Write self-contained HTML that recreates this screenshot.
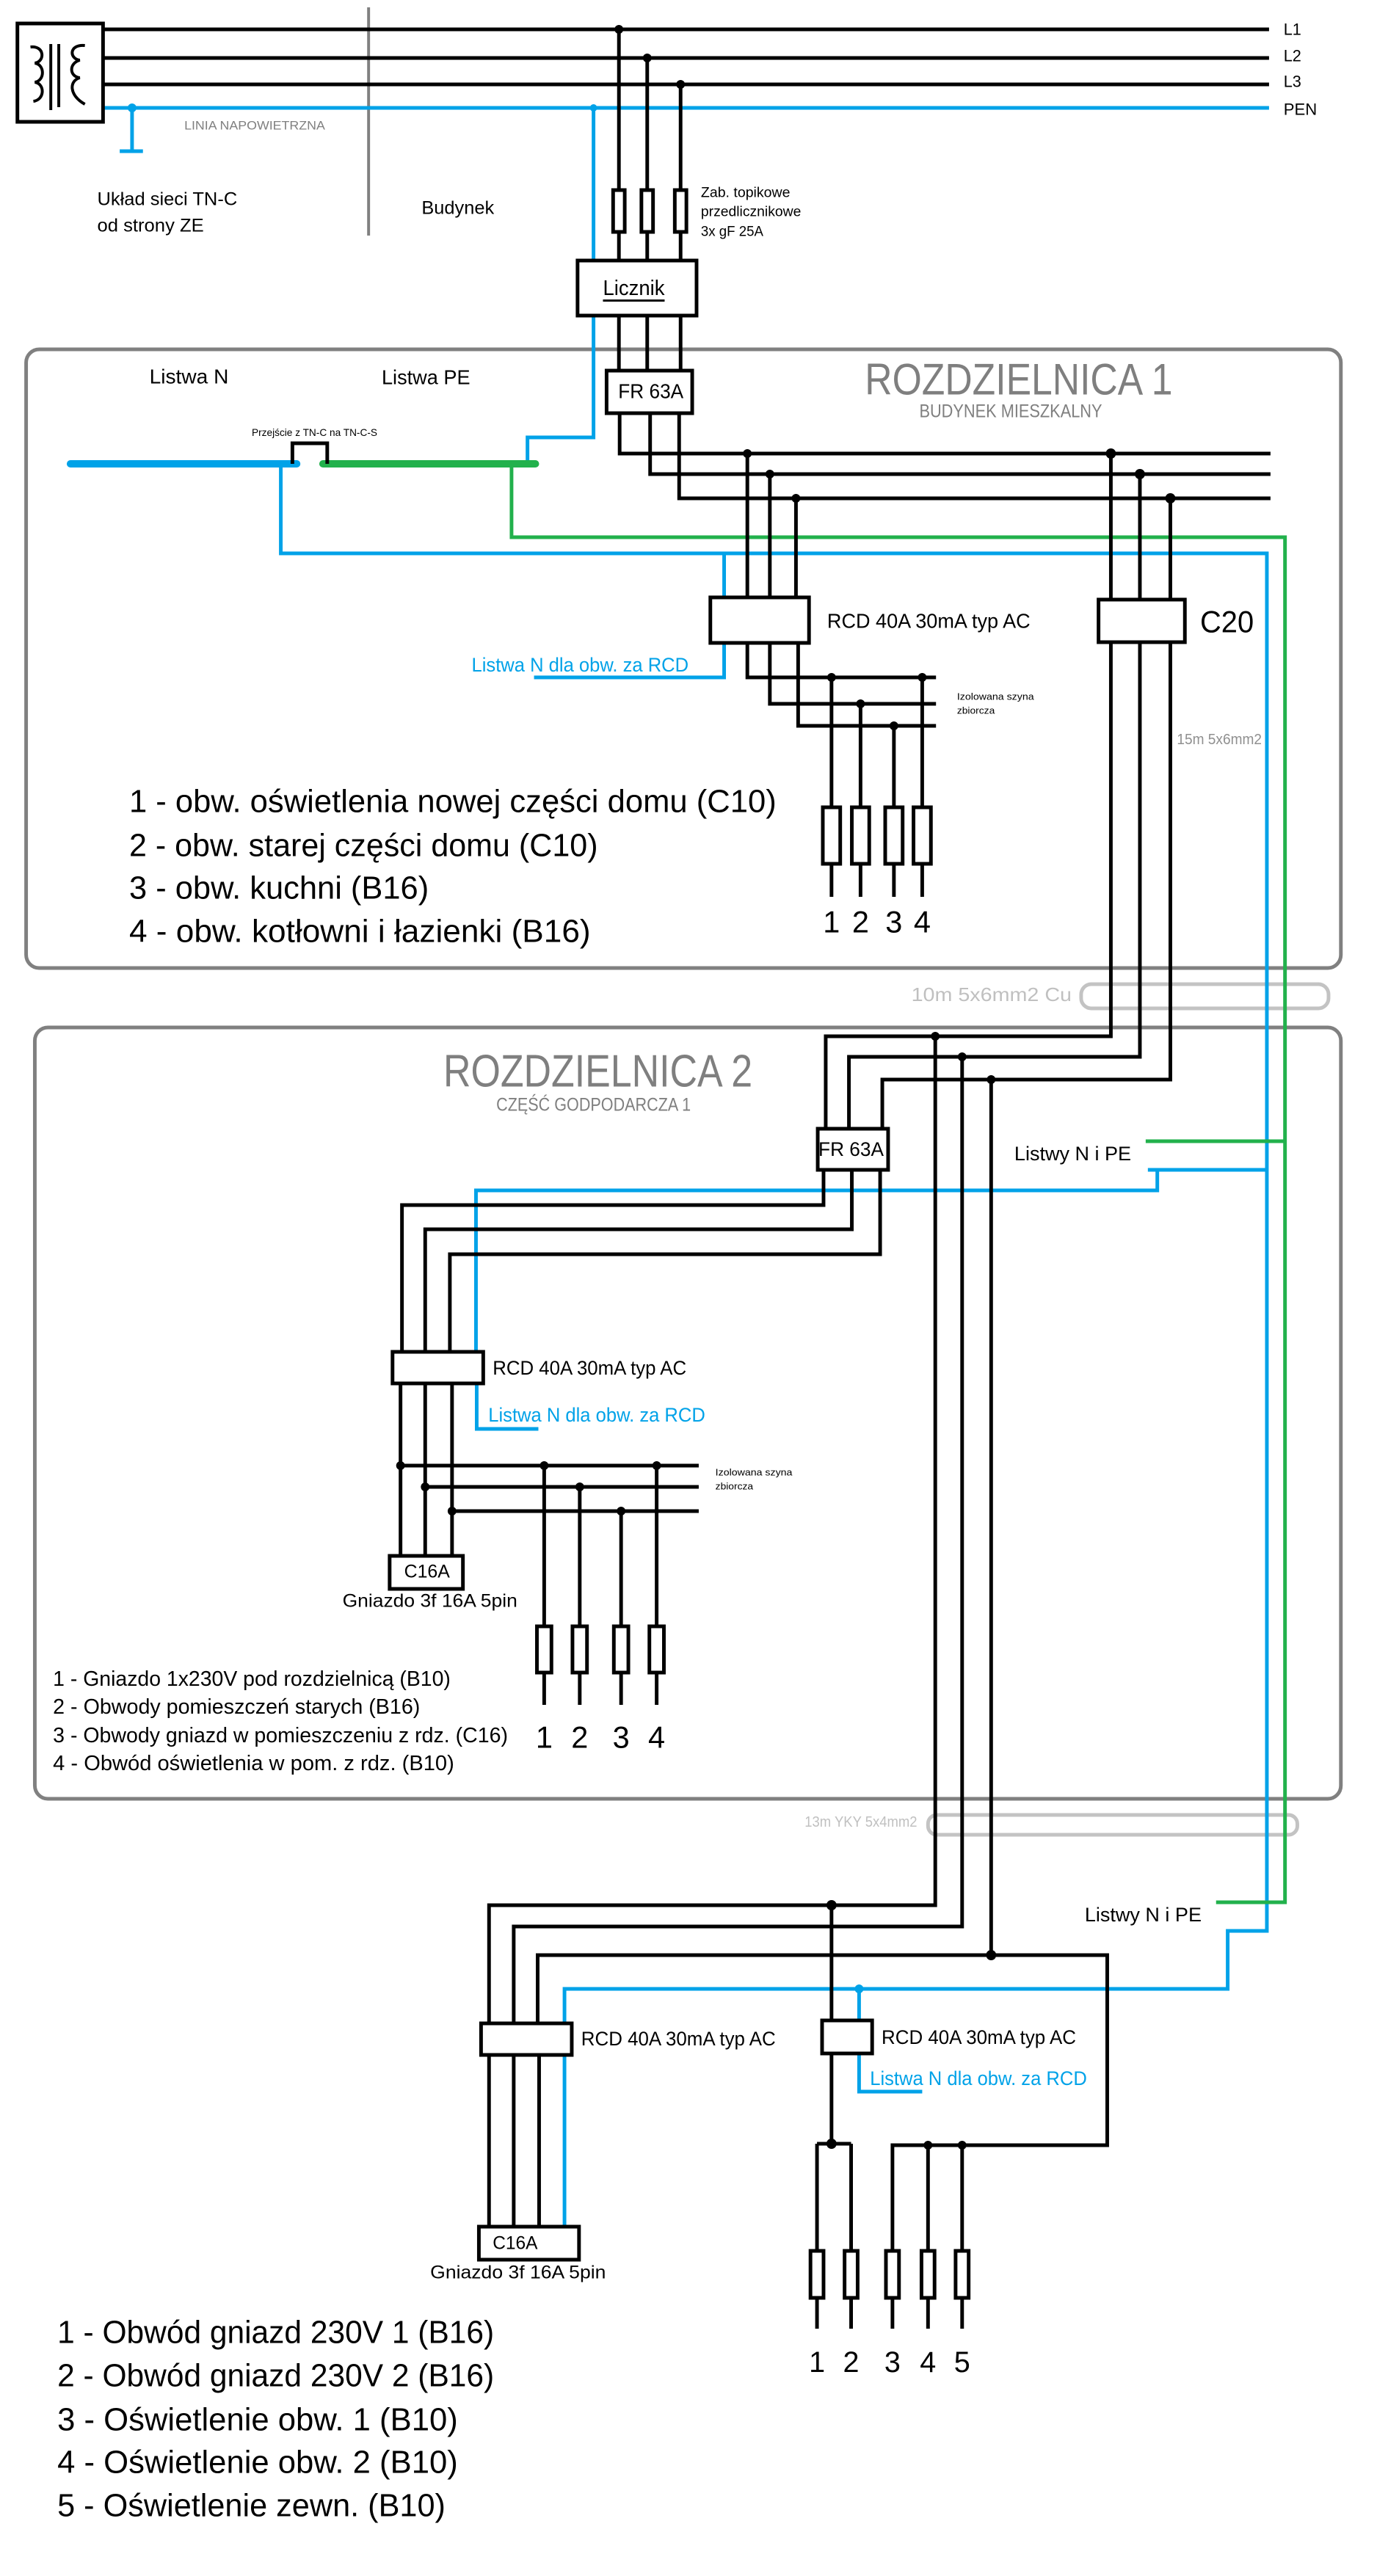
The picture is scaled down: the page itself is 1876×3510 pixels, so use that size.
<!DOCTYPE html>
<html><head><meta charset="utf-8"><style>
html,body{margin:0;padding:0;background:#fff;}
svg{display:block;}
text{font-family:"Liberation Sans","DejaVu Sans",sans-serif;}
</style></head><body>
<svg width="1876" height="3510" viewBox="0 0 1876 3510" xmlns="http://www.w3.org/2000/svg">
<rect width="1876" height="3510" fill="#fff"/>
<g transform="scale(0.98852,1)">
<!-- enclosures -->
<rect x="36" y="476" width="1812" height="843" rx="18" fill="none" stroke="#808080" stroke-width="5"/>
<rect x="48" y="1400" width="1800" height="1051" rx="18" fill="none" stroke="#808080" stroke-width="5"/>
<rect x="1490" y="1341" width="341" height="33" rx="14" fill="none" stroke="#c3c3c3" stroke-width="5"/>
<rect x="1279" y="2473" width="509" height="27" rx="12" fill="none" stroke="#c3c3c3" stroke-width="5"/>
<line x1="508" y1="10" x2="508" y2="321" stroke="#808080" stroke-width="4"/>

<!-- blue / green -->
<g fill="none" stroke="#00a2e8" stroke-width="5">
<path d="M143 147 H1749"/>
<path d="M182 147 V206 M165 206 H197"/>
<path d="M818 147 V596 H727 V632"/>
<path d="M387 632 V754 H1746 V2631 H1692 V2710 H778 V3034"/>
<path d="M998 754 V814"/>
<path d="M998 876 V923 H736"/>
<path d="M1746 1594 H1582 M1595 1594 V1622 H656 V1842"/>
<path d="M657 1885 V1947 H742"/>
<path d="M1184 2710 V2753 M1184 2798 V2850 H1271"/>
</g>
<g fill="none" stroke="#22b14c" stroke-width="5">
<path d="M705 632 V732 H1771 V2592 H1676"/>
<path d="M1771 1555 H1579"/>
</g>
<line x1="97" y1="632" x2="409" y2="632" stroke="#00a2e8" stroke-width="10" stroke-linecap="round"/>
<line x1="445" y1="632" x2="738" y2="632" stroke="#22b14c" stroke-width="10" stroke-linecap="round"/>
<circle cx="182" cy="147" r="6" fill="#00a2e8"/><circle cx="818" cy="147" r="5" fill="#00a2e8"/>
<circle cx="1184" cy="2710" r="6" fill="#00a2e8"/>

<!-- black wiring -->
<g fill="none" stroke="#000" stroke-width="5">
<path d="M143 40 H1749 M143 79 H1749 M143 115 H1749"/>
<path d="M853 40 V505 M892 79 V505 M938 115 V505"/>
<path d="M854 563 V618 H1751 M896 563 V646 H1751 M936 563 V679 H1751"/>
<path d="M403 632 V604 H451 V632"/>
<path d="M1030 618 V814 M1061 646 V814 M1097 679 V814"/>
<path d="M1531 618 V817 M1571 646 V817 M1613 679 V817"/>
<path d="M1030 876 V923 H1290 M1061 876 V959 H1290 M1100 876 V989 H1290"/>
<path d="M1146 923 V1222 M1186 959 V1222 M1232 989 V1222 M1271 923 V1222"/>
<path d="M1531 875 V1412 H1138 V1538 M1571 875 V1440 H1170 V1538 M1613 875 V1471 H1216 V1538"/>
<path d="M1135 1594 V1642 H554 V1842 M1174 1594 V1675 H586 V1842 M1213 1594 V1709 H620 V1842"/>
<path d="M552 1885 V2120 M586 1885 V2120 M623 1885 V2120"/>
<path d="M552 1997 H963 M586 2026 H963 M623 2059 H963"/>
<path d="M750 1997 V2323 M799 2026 V2323 M856 2059 V2323 M905 1997 V2323"/>
<path d="M1289 1412 V2596 H674 V2757 M1326 1440 V2625 H708 V2757 M1366 1471 V2664 H741 V2757"/>
<path d="M1366 2664 H1526 V2923 H1230 V3173"/>
<path d="M1279 2923 V3173 M1326 2923 V3173"/>
<path d="M1146 2596 V2753 M1146 2798 V2921 M1126 2921 H1173 M1126 2921 V3173 M1173 2921 V3173"/>
<path d="M674 2800 V3034 M708 2800 V3034 M743 2800 V3034"/>
</g>
<g fill="#000">
<circle cx="853" cy="40" r="6"/><circle cx="892" cy="79" r="6"/><circle cx="938" cy="115" r="6"/>
<circle cx="1030" cy="618" r="6"/><circle cx="1061" cy="646" r="6"/><circle cx="1097" cy="679" r="6"/>
<circle cx="1531" cy="618" r="7"/><circle cx="1571" cy="646" r="7"/><circle cx="1613" cy="679" r="7"/>
<circle cx="1146" cy="923" r="6"/><circle cx="1186" cy="959" r="6"/><circle cx="1232" cy="989" r="6"/><circle cx="1271" cy="923" r="6"/>
<circle cx="1289" cy="1412" r="6"/><circle cx="1326" cy="1440" r="6"/><circle cx="1366" cy="1471" r="6"/>
<circle cx="552" cy="1997" r="6"/><circle cx="586" cy="2026" r="6"/><circle cx="623" cy="2059" r="6"/>
<circle cx="750" cy="1997" r="6"/><circle cx="799" cy="2026" r="6"/><circle cx="856" cy="2059" r="6"/><circle cx="905" cy="1997" r="6"/>
<circle cx="1146" cy="2596" r="7"/><circle cx="1366" cy="2664" r="7"/><circle cx="1146" cy="2921" r="7"/>
<circle cx="1279" cy="2923" r="6"/><circle cx="1326" cy="2923" r="6"/>
</g>

<!-- boxes -->
<g fill="#fff" stroke="#000" stroke-width="5">
<rect x="24" y="32" width="118" height="134"/>
<rect x="845" y="259" width="16" height="57"/><rect x="884" y="259" width="16" height="57"/><rect x="930" y="259" width="16" height="57"/>
<rect x="796" y="355" width="164" height="75"/>
<rect x="836" y="505" width="118" height="58"/>
<rect x="979" y="814" width="136" height="62"/>
<rect x="1514" y="817" width="119" height="58"/>
<rect x="1134" y="1100" width="24" height="77"/><rect x="1174" y="1100" width="24" height="77"/><rect x="1220" y="1100" width="24" height="77"/><rect x="1259" y="1100" width="24" height="77"/>
<rect x="1127" y="1538" width="97" height="56"/>
<rect x="541" y="1842" width="125" height="43"/>
<rect x="537" y="2120" width="101" height="45"/>
<rect x="740" y="2216" width="20" height="63"/><rect x="789" y="2216" width="20" height="63"/><rect x="846" y="2216" width="20" height="63"/><rect x="895" y="2216" width="20" height="63"/>
<rect x="663" y="2757" width="125" height="43"/>
<rect x="1133" y="2753" width="69" height="45"/>
<rect x="660" y="3034" width="138" height="45"/>
<rect x="1117" y="3067" width="18" height="64"/><rect x="1164" y="3067" width="18" height="64"/><rect x="1221" y="3067" width="18" height="64"/><rect x="1270" y="3067" width="18" height="64"/><rect x="1317" y="3067" width="18" height="64"/>
</g>
<!-- transformer symbol -->
<g fill="none" stroke="#000" stroke-width="4">
<path d="M42 64 C62 62 62 84 48 86 C62 88 62 110 48 112 C62 114 62 136 46 138"/>
<path d="M70 60 V150 M81 60 V146"/>
<path d="M117 62 C95 60 95 80 110 82 C95 86 95 104 110 106 C95 110 95 130 117 142"/>
</g>

<!-- text -->
<g fill="#000" dominant-baseline="central">
<text x="1769" y="40" font-size="22">L1</text>
<text x="1769" y="76" font-size="22">L2</text>
<text x="1769" y="111" font-size="22">L3</text>
<text x="1769" y="149" font-size="22" textLength="46" lengthAdjust="spacingAndGlyphs">PEN</text>
<text x="254" y="171" font-size="17" fill="#808080" textLength="194" lengthAdjust="spacingAndGlyphs">LINIA NAPOWIETRZNA</text>
<text x="134" y="272" font-size="25" textLength="193" lengthAdjust="spacingAndGlyphs">Układ sieci TN-C</text>
<text x="134" y="308" font-size="25" textLength="147" lengthAdjust="spacingAndGlyphs">od strony ZE</text>
<text x="581" y="284" font-size="25" textLength="100" lengthAdjust="spacingAndGlyphs">Budynek</text>
<text x="966" y="263" font-size="19" textLength="123" lengthAdjust="spacingAndGlyphs">Zab. topikowe</text>
<text x="966" y="289" font-size="19" textLength="138" lengthAdjust="spacingAndGlyphs">przedlicznikowe</text>
<text x="966" y="316" font-size="19" textLength="86" lengthAdjust="spacingAndGlyphs">3x gF 25A</text>
<text x="831" y="393" font-size="29" textLength="85" lengthAdjust="spacingAndGlyphs" text-decoration="underline">Licznik</text>
<text x="852" y="533" font-size="28" textLength="90" lengthAdjust="spacingAndGlyphs">FR 63A</text>
<text x="1192" y="517" font-size="60" fill="#7f7f7f" textLength="424" lengthAdjust="spacingAndGlyphs">ROZDZIELNICA 1</text>
<text x="1267" y="561" font-size="25" fill="#7f7f7f" textLength="252" lengthAdjust="spacingAndGlyphs">BUDYNEK MIESZKALNY</text>
<text x="206" y="513" font-size="28" textLength="109" lengthAdjust="spacingAndGlyphs">Listwa N</text>
<text x="526" y="514" font-size="28" textLength="122" lengthAdjust="spacingAndGlyphs">Listwa PE</text>
<text x="347" y="589" font-size="14" textLength="173" lengthAdjust="spacingAndGlyphs">Przejście z TN-C na TN-C-S</text>
<text x="1140" y="846" font-size="28" textLength="280" lengthAdjust="spacingAndGlyphs">RCD 40A 30mA typ AC</text>
<text x="1654" y="847" font-size="42" textLength="74" lengthAdjust="spacingAndGlyphs">C20</text>
<text x="650" y="906" font-size="27" fill="#00a2e8" textLength="299" lengthAdjust="spacingAndGlyphs">Listwa N dla obw. za RCD</text>
<text x="1319" y="949" font-size="13" textLength="106" lengthAdjust="spacingAndGlyphs">Izolowana szyna</text>
<text x="1319" y="968" font-size="13" textLength="52" lengthAdjust="spacingAndGlyphs">zbiorcza</text>
<text x="1622" y="1008" font-size="20" fill="#909090" textLength="117" lengthAdjust="spacingAndGlyphs">15m 5x6mm2</text>
<text x="178" y="1092" font-size="44" textLength="892" lengthAdjust="spacingAndGlyphs">1 - obw. oświetlenia nowej części domu (C10)</text>
<text x="178" y="1152" font-size="44" textLength="646" lengthAdjust="spacingAndGlyphs">2 - obw. starej części domu (C10)</text>
<text x="178" y="1210" font-size="44" textLength="413" lengthAdjust="spacingAndGlyphs">3 - obw. kuchni (B16)</text>
<text x="178" y="1269" font-size="44" textLength="636" lengthAdjust="spacingAndGlyphs">4 - obw. kotłowni i łazienki (B16)</text>
<text x="1146" y="1256" font-size="42" text-anchor="middle">1</text>
<text x="1186" y="1256" font-size="42" text-anchor="middle">2</text>
<text x="1232" y="1256" font-size="42" text-anchor="middle">3</text>
<text x="1271" y="1256" font-size="42" text-anchor="middle">4</text>

<text x="1256" y="1356" font-size="26" fill="#c0c0c0" textLength="221" lengthAdjust="spacingAndGlyphs">10m 5x6mm2 Cu</text>
<text x="611" y="1460" font-size="62" fill="#7f7f7f" textLength="426" lengthAdjust="spacingAndGlyphs">ROZDZIELNICA 2</text>
<text x="684" y="1506" font-size="25" fill="#7f7f7f" textLength="268" lengthAdjust="spacingAndGlyphs">CZĘŚĆ GODPODARCZA 1</text>
<text x="1128" y="1566" font-size="27" textLength="90" lengthAdjust="spacingAndGlyphs">FR 63A</text>
<text x="1398" y="1572" font-size="27" textLength="161" lengthAdjust="spacingAndGlyphs">Listwy N i PE</text>
<text x="679" y="1864" font-size="27" textLength="267" lengthAdjust="spacingAndGlyphs">RCD 40A 30mA typ AC</text>
<text x="673" y="1928" font-size="27" fill="#00a2e8" textLength="299" lengthAdjust="spacingAndGlyphs">Listwa N dla obw. za RCD</text>
<text x="986" y="2006" font-size="13" textLength="106" lengthAdjust="spacingAndGlyphs">Izolowana szyna</text>
<text x="986" y="2025" font-size="13" textLength="52" lengthAdjust="spacingAndGlyphs">zbiorcza</text>
<text x="557" y="2142" font-size="25" textLength="63" lengthAdjust="spacingAndGlyphs">C16A</text>
<text x="472" y="2182" font-size="25" textLength="241" lengthAdjust="spacingAndGlyphs">Gniazdo 3f 16A 5pin</text>
<text x="73" y="2288" font-size="29" textLength="548" lengthAdjust="spacingAndGlyphs">1 - Gniazdo 1x230V pod rozdzielnicą (B10)</text>
<text x="73" y="2326" font-size="29" textLength="506" lengthAdjust="spacingAndGlyphs">2 - Obwody pomieszczeń starych (B16)</text>
<text x="73" y="2365" font-size="29" textLength="627" lengthAdjust="spacingAndGlyphs">3 - Obwody gniazd w pomieszczeniu z rdz. (C16)</text>
<text x="73" y="2403" font-size="29" textLength="553" lengthAdjust="spacingAndGlyphs">4 - Obwód oświetlenia w pom. z rdz. (B10)</text>
<text x="750" y="2367" font-size="42" text-anchor="middle">1</text>
<text x="799" y="2367" font-size="42" text-anchor="middle">2</text>
<text x="856" y="2367" font-size="42" text-anchor="middle">3</text>
<text x="905" y="2367" font-size="42" text-anchor="middle">4</text>
<text x="1109" y="2483" font-size="20" fill="#c0c0c0" textLength="155" lengthAdjust="spacingAndGlyphs">13m YKY 5x4mm2</text>

<text x="1495" y="2609" font-size="27" textLength="161" lengthAdjust="spacingAndGlyphs">Listwy N i PE</text>
<text x="801" y="2778" font-size="27" textLength="268" lengthAdjust="spacingAndGlyphs">RCD 40A 30mA typ AC</text>
<text x="1215" y="2776" font-size="27" textLength="268" lengthAdjust="spacingAndGlyphs">RCD 40A 30mA typ AC</text>
<text x="1199" y="2832" font-size="27" fill="#00a2e8" textLength="299" lengthAdjust="spacingAndGlyphs">Listwa N dla obw. za RCD</text>
<text x="679" y="3057" font-size="25" textLength="62" lengthAdjust="spacingAndGlyphs">C16A</text>
<text x="593" y="3097" font-size="25" textLength="242" lengthAdjust="spacingAndGlyphs">Gniazdo 3f 16A 5pin</text>
<text x="1126" y="3219" font-size="40" text-anchor="middle">1</text>
<text x="1173" y="3219" font-size="40" text-anchor="middle">2</text>
<text x="1230" y="3219" font-size="40" text-anchor="middle">3</text>
<text x="1279" y="3219" font-size="40" text-anchor="middle">4</text>
<text x="1326" y="3219" font-size="40" text-anchor="middle">5</text>
<text x="79" y="3178" font-size="44" textLength="602" lengthAdjust="spacingAndGlyphs">1 - Obwód gniazd 230V 1 (B16)</text>
<text x="79" y="3237" font-size="44" textLength="602" lengthAdjust="spacingAndGlyphs">2 - Obwód gniazd 230V 2 (B16)</text>
<text x="79" y="3297" font-size="44" textLength="552" lengthAdjust="spacingAndGlyphs">3 - Oświetlenie obw. 1 (B10)</text>
<text x="79" y="3355" font-size="44" textLength="552" lengthAdjust="spacingAndGlyphs">4 - Oświetlenie obw. 2 (B10)</text>
<text x="79" y="3414" font-size="44" textLength="535" lengthAdjust="spacingAndGlyphs">5 - Oświetlenie zewn. (B10)</text>
</g>
</g>
</svg>
</body></html>
